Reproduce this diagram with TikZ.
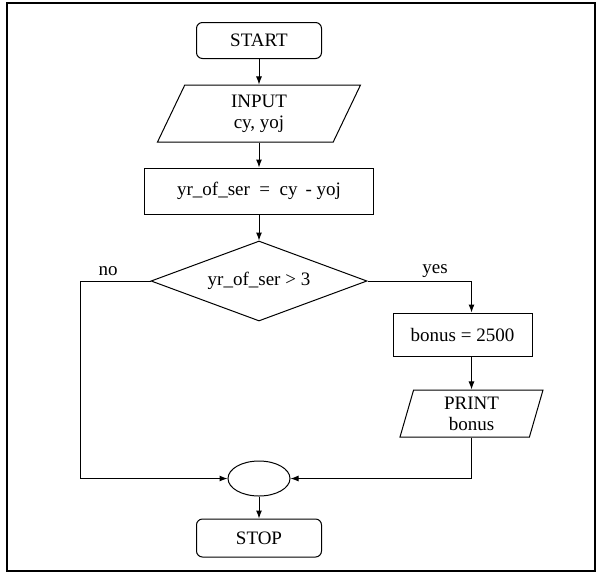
\documentclass[tikz,border=0pt]{standalone}
\usepackage{fontspec}
\setmainfont{Liberation Serif}
\usetikzlibrary{shapes.geometric,arrows.meta}
\begin{document}
\begin{tikzpicture}[x=1pt,y=-1pt,>={Latex[length=8pt,width=6pt]},line width=1pt,
        every node/.style={font=\fontsize{19}{21}\selectfont,inner sep=0pt},
        terminal/.style={draw,rounded corners=6pt,minimum width=125pt,minimum height=36pt},
        io/.style={draw,trapezium,trapezium stretches body=true,align=center},
        process/.style={draw,rectangle},
        decision/.style={draw,diamond,aspect=2.7,minimum width=216pt,minimum height=80pt}]
        \useasboundingbox (0,0) rectangle (602,579);
        \draw [line width=1.5pt] (7,3) rectangle (595,571);
        \node [terminal] (start) at (259,40.5) {START};
        \node [io,trapezium left angle=54,trapezium right angle=126,minimum width=203pt,minimum height=57pt] (input) at (259,113.5) {INPUT\\cy, yoj};
        \node [process,minimum width=229pt,minimum height=46pt] (calc) at (259,191) {yr\_of\_ser\ \ =\ \ cy\ \,-\ yoj};
        \node [decision] (test) at (259,281) {yr\_of\_ser > 3};
        \node [process,minimum width=139pt,minimum height=43pt] (bonus) at (462.5,334.5) {bonus = 2500};
        \node [io,trapezium left angle=68,trapezium right angle=112,minimum width=143pt,minimum height=47pt] (print) at (471.5,413.5) {PRINT\\bonus};
        \node [draw,ellipse,minimum width=62pt,minimum height=35pt] (join) at (259,478.5) {};
        \node [terminal,minimum height=38pt] (stop) at (259,538) {STOP};
        \node [anchor=base] (no) at (108,275) {no};
        \node [anchor=base] (yes) at (435,273) {yes};
        \coordinate (noturn) at (80,478.5);
        \draw [->] (start) -- (input);
        \draw [->] (input) -- (calc);
        \draw [->] (calc) -- (test);
        \draw [->] (test.east) -| (print.north |- bonus.north);
        \draw [->] (print.north |- bonus.south) -- (print.north);
        \draw [->] (print.south) |- (join.east);
        \draw [->] (test.west) -| (noturn) -- (join.west);
        \draw [->] (join) -- (stop);
    \end{tikzpicture}
\end{document}
